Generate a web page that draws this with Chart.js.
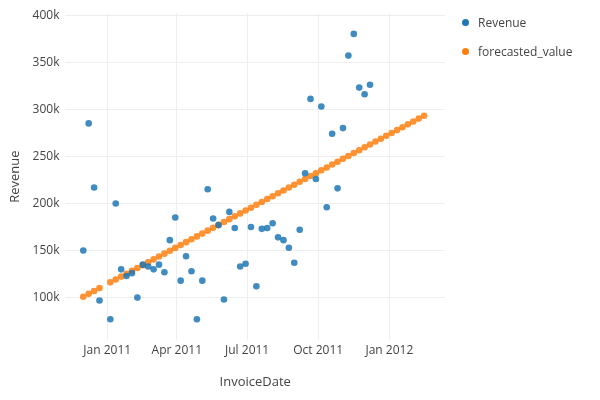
<!DOCTYPE html>
<html>
<head>
<meta charset="utf-8">
<script src="https://cdn.jsdelivr.net/npm/chart.js@4/dist/chart.umd.min.js"></script>
<style>
  body { margin: 0; background: #fff; font-family: "Open Sans", sans-serif; }
  #wrap { position: relative; width: 600px; height: 400px; }
  #legend { position: absolute; left: 462px; top: 8px; font-size: 12px; color: #444; }
  .item { display: flex; align-items: center; height: 29px; }
  .dot { width: 7px; height: 7px; border-radius: 50%; margin-right: 9px; }
</style>
</head>
<body>
<div id="wrap">
  <canvas id="chart" width="600" height="400"></canvas>
  <div id="legend">
    <div class="item"><span class="dot" style="background:#1f77b4"></span>Revenue</div>
    <div class="item"><span class="dot" style="background:#ff7f0e"></span>forecasted_value</div>
  </div>
</div>
<script>
// weekly dates
const revenueDates = [
  '2010-12-01','2010-12-08','2010-12-15','2010-12-22',
  '2011-01-05','2011-01-12','2011-01-19','2011-01-26','2011-02-02','2011-02-09','2011-02-16','2011-02-23',
  '2011-03-02','2011-03-09','2011-03-16','2011-03-23','2011-03-30','2011-04-06','2011-04-13','2011-04-20',
  '2011-04-27','2011-05-04','2011-05-11','2011-05-18','2011-05-25','2011-06-01','2011-06-08','2011-06-15',
  '2011-06-22','2011-06-29','2011-07-06','2011-07-13','2011-07-20','2011-07-27','2011-08-03','2011-08-10',
  '2011-08-17','2011-08-24','2011-08-31','2011-09-07','2011-09-14','2011-09-21','2011-09-28','2011-10-05',
  '2011-10-12','2011-10-19','2011-10-26','2011-11-02','2011-11-09','2011-11-16','2011-11-23','2011-11-30',
  '2011-12-07'
];
const revenue = [
  150, 285, 217, 97,
  77, 200, 130, 123, 126, 100, 135, 133,
  130, 135, 127, 161, 185, 118, 144, 128,
  77, 118, 215, 184, 177, 98, 191, 174,
  133, 136, 175, 112, 173, 174, 179, 164,
  161, 153, 137, 172, 232, 311, 226, 303,
  196, 274, 216, 280, 357, 380, 323, 316,
  326
];
const forecastExtraDates = [
  '2011-12-14','2011-12-21','2011-12-28','2012-01-04','2012-01-11','2012-01-18','2012-01-25',
  '2012-02-01','2012-02-08','2012-02-15'
];
const forecast = [
  101, 104.0, 107.1, 110.1,
  116.2, 119.3, 122.3, 125.4, 128.4, 131.5, 134.5, 137.6,
  140.6, 143.6, 146.7, 149.7, 152.8, 155.9, 158.9, 161.9,
  165.0, 168.0, 171.1, 174.1, 177.2, 180.3, 183.3, 186.4,
  189.4, 192.5, 195.5, 198.6, 201.6, 204.7, 207.7, 210.8,
  213.8, 216.9, 219.9, 223.0, 226.0, 229.1, 232.1, 235.2,
  238.2, 241.3, 244.3, 247.4, 250.4, 253.5, 256.5, 259.6,
  262.6, 265.7, 268.7, 271.8, 274.8, 277.9, 280.9, 284.0,
  287.0, 290.1, 293.1
];
const xTickDates = ['2011-01-01','2011-04-01','2011-07-01','2011-10-01','2012-01-01'];
const xTickLabels = ['Jan 2011','Apr 2011','Jul 2011','Oct 2011','Jan 2012'];
const yTicks = [100, 150, 200, 250, 300, 350, 400];

const dayMs = 86400000;
const base = Date.UTC(2011, 0, 1);
function toDay(s) { return (Date.parse(s + 'T00:00:00Z') - base) / dayMs; }

const forecastDates = revenueDates.concat(forecastExtraDates);
const xTicks = xTickDates.map(toDay);

const ctx = document.getElementById('chart').getContext('2d');
new Chart(ctx, {
  type: 'scatter',
  data: {
    datasets: [{
      label: 'Revenue',
      data: revenueDates.map((d, i) => ({ x: toDay(d), y: revenue[i] })),
      backgroundColor: 'rgba(31,119,180,0.85)',
      borderWidth: 0,
      pointRadius: 3.3
    }, {
      label: 'forecasted_value',
      data: forecastDates.map((d, i) => ({ x: toDay(d), y: forecast[i] })),
      backgroundColor: 'rgba(255,127,14,0.85)',
      borderWidth: 0,
      pointRadius: 3.3
    }]
  },
  options: {
    responsive: false,
    animation: false,
    layout: { padding: { top: 10, right: 155, left: 3, bottom: 6 } },
    plugins: { legend: { display: false }, tooltip: { enabled: false } },
    scales: {
      x: {
        type: 'linear', min: -54, max: 437,
        afterBuildTicks: axis => { axis.ticks = xTicks.map(v => ({ value: v })); },
        ticks: {
          color: '#444', font: { size: 12, family: 'Open Sans' }, maxRotation: 0,
          callback: v => xTickLabels[xTicks.indexOf(v)]
        },
        grid: { color: '#eeeeee', drawTicks: false },
        border: { display: false },
        title: { display: true, text: 'InvoiceDate', color: '#444', font: { size: 13, family: 'Open Sans' }, padding: { top: 14 } }
      },
      y: {
        min: 55, max: 402,
        afterBuildTicks: axis => { axis.ticks = yTicks.map(v => ({ value: v })); },
        ticks: { color: '#444', font: { size: 12, family: 'Open Sans' }, padding: 6, callback: v => v + 'k' },
        grid: { color: '#eeeeee', drawTicks: false },
        border: { display: false },
        title: { display: true, text: 'Revenue', color: '#444', font: { size: 13, family: 'Open Sans' } }
      }
    }
  }
});
</script>
</body>
</html>
